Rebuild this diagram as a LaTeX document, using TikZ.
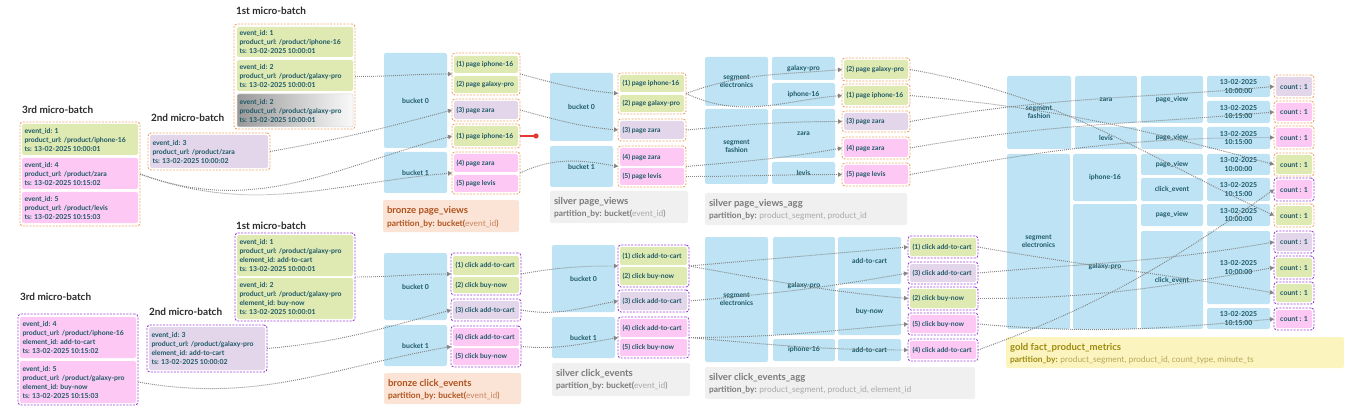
\documentclass[tikz,border=0pt]{standalone}
\usepackage{fontspec}
\setmainfont{Lato}
\usetikzlibrary{arrows.meta}
\definecolor{bblue}{HTML}{BDE3F4}
\definecolor{egreen}{HTML}{DFE9B2}
\definecolor{epink}{HTML}{FDC9F4}
\definecolor{elav}{HTML}{E3D6EB}
\definecolor{obord}{HTML}{F0A46A}
\definecolor{pbord}{HTML}{9B42D6}
\definecolor{tteal}{HTML}{1C5866}
\definecolor{conn}{HTML}{858585}
\definecolor{bzfill}{HTML}{FBE4D6}
\definecolor{bztext}{HTML}{B0521C}
\definecolor{bzlight}{HTML}{C9855E}
\definecolor{svfill}{HTML}{F0F0F0}
\definecolor{svtext}{HTML}{7A7A7A}
\definecolor{svlight}{HTML}{A8A8A8}
\definecolor{gdfill}{HTML}{FCF4BE}
\definecolor{gdtext}{HTML}{9C8A10}
\definecolor{gdlight}{HTML}{B5A75A}
\definecolor{ttlc}{HTML}{2A2A2A}
\definecolor{redc}{HTML}{E53935}
\newcommand\rb[7]{\node[#6, anchor=north west, minimum width={#4-#2}, minimum height={#5-#3}] (#1) at (#2,#3) {#7};}
\newcommand\tr[8]{\node[#6, anchor=north west, minimum width={#4-#2}, minimum height={#5-#3}] (#1) at (#2,#3) {};\node[#7, anchor=west] (#1t) at ([xshift=2.5pt]#1.west) {#8};}
\tikzset{
 every node/.style={inner sep=0pt, outer sep=0pt},
 bluebox/.style={fill=bblue, rounded corners=2pt, text=tteal, font=\fontsize{6.9}{8.2}\selectfont\bfseries, align=center},
 ogrp/.style={draw=obord, line width=0.9pt, dash pattern=on 2pt off 1.3pt, rounded corners=3pt},
 pgrp/.style={draw=pbord, line width=0.9pt, dash pattern=on 2pt off 1.3pt, rounded corners=3pt},
 fgreen/.style={fill=egreen, rounded corners=2pt},
 fpink/.style={fill=epink, rounded corners=2pt},
 flav/.style={fill=elav, rounded corners=2pt},
 fgrey/.style={left color=gray!80, right color=gray!4, rounded corners=2pt, draw=gray!30, line width=0.5pt},
 evt/.style={font=\fontsize{6.9}{9}\selectfont\bfseries, text=tteal, align=left},
 rtx/.style={font=\fontsize{6.8}{7.5}\selectfont\bfseries, text=tteal},
 ctx/.style={font=\fontsize{7}{8}\selectfont\bfseries, text=tteal},
 ttl/.style={font=\fontsize{10}{11}\selectfont\bfseries, text=ttlc, anchor=west},
 labbz/.style={fill=bzfill, rounded corners=2pt},
 labsv/.style={fill=svfill, rounded corners=2pt},
 labgd/.style={fill=gdfill, rounded corners=2pt},
 lh/.style={anchor=west, font=\fontsize{9.6}{10}\selectfont\bfseries},
 lp/.style={anchor=west, font=\fontsize{8.4}{9}\selectfont},
 conn/.style={draw=conn, line width=0.95pt, dash pattern=on 0.95pt off 1.05pt, -{Triangle[width=4.5pt,length=4pt]}},
}
\begin{document}
\begin{tikzpicture}[x=1pt,y=-1pt]
\useasboundingbox (0,0) rectangle (1358,409);
% ---------- titles
\node[ttl] (t1) at (236,11) {1st micro-batch};
\node[ttl] (t2) at (151,118) {2nd micro-batch};
\node[ttl] (t3) at (22,110) {3rd micro-batch};
\node[ttl] (t4) at (236,226) {1st micro-batch};
\node[ttl] (t5) at (149,312) {2nd micro-batch};
\node[ttl] (t6) at (20,297) {3rd micro-batch};
% ---------- page batches
\rb{pb1}{234}{24}{355}{129}{ogrp}{}
\tr{pb1a}{237}{27}{353}{57}{fgreen}{evt}{event\_id: 1\\product\_url: /product/iphone-16\\ts: 13-02-2025 10:00:01}
\tr{pb1b}{237}{60}{353}{91}{fgreen}{evt}{event\_id: 2\\product\_url: /product/galaxy-pro\\ts: 13-02-2025 10:00:01}
\tr{pb1c}{237}{94}{353}{127}{fgrey}{evt}{event\_id: 2\\product\_url: /product/galaxy-pro\\ts: 13-02-2025 10:00:01}
\rb{pb2}{148}{133}{270}{170}{ogrp}{}
\tr{pb2a}{150}{135}{268}{168}{flav}{evt}{event\_id: 3\\product\_url: /product/zara\\ts: 13-02-2025 10:00:02}
\rb{pb3}{20}{122}{140}{226}{ogrp}{}
\tr{pb3a}{22}{124}{138}{155}{fgreen}{evt}{event\_id: 1\\product\_url: /product/iphone-16\\ts: 13-02-2025 10:00:01}
\tr{pb3b}{22}{158}{138}{189}{fpink}{evt}{event\_id: 4\\product\_url: /product/zara\\ts: 13-02-2025 10:15:02}
\tr{pb3c}{22}{192}{138}{223}{fpink}{evt}{event\_id: 5\\product\_url: /product/levis\\ts: 13-02-2025 10:15:03}
% ---------- click batches
\rb{cb1}{235}{233}{355}{321}{pgrp}{}
\tr{cb1a}{237}{235}{353}{276}{fgreen}{evt}{event\_id: 1\\product\_url: /product/galaxy-pro\\element\_id: add-to-cart\\ts: 13-02-2025 10:00:01}
\tr{cb1b}{237}{278}{353}{319}{fgreen}{evt}{event\_id: 2\\product\_url: /product/galaxy-pro\\element\_id: buy-now\\ts: 13-02-2025 10:00:01}
\rb{cb2}{147}{325}{267}{372}{pgrp}{}
\tr{cb2a}{149}{327}{265}{370}{flav}{evt}{event\_id: 3\\product\_url: /product/galaxy-pro\\element\_id: add-to-cart\\ts: 13-02-2025 10:00:02}
\rb{cb3}{18}{314}{138}{405}{pgrp}{}
\tr{cb3a}{20}{317}{136}{358}{fpink}{evt}{event\_id: 4\\product\_url: /product/iphone-16\\element\_id: add-to-cart\\ts: 13-02-2025 10:15:02}
\tr{cb3b}{20}{361}{136}{403}{fpink}{evt}{event\_id: 5\\product\_url: /product/galaxy-pro\\element\_id: buy-now\\ts: 13-02-2025 10:15:03}
% ---------- bronze page_views
\rb{bzb0}{384}{53}{447}{148}{bluebox}{bucket 0}
\rb{bzb1}{384}{152}{447}{193}{bluebox}{bucket 1}
\rb{bzg1}{452}{53}{520}{95}{ogrp}{}
\tr{bzg1a}{454}{56}{518}{73}{fgreen}{rtx}{(1) page iphone-16}
\tr{bzg1b}{454}{76}{518}{93}{fgreen}{rtx}{(2) page galaxy-pro}
\rb{bzg3}{452}{99}{520}{121}{ogrp}{}
\tr{bzg3a}{454}{101}{518}{119}{flav}{rtx}{(3) page zara}
\rb{bzgd}{452}{124}{520}{148}{ogrp}{}
\tr{bzgda}{454}{126}{518}{146}{fgreen}{rtx}{(1) page iphone-16}
\rb{bzgb}{452}{152}{520}{194}{ogrp}{}
\tr{bzgba}{454}{154}{518}{172}{fpink}{rtx}{(4) page zara}
\tr{bzgbb}{454}{175}{518}{192}{fpink}{rtx}{(5) page levis}
\rb{bzl}{383}{200}{519}{232}{labbz}{}
\node[lh, text=bztext] (bzl1) at (387,211) {bronze page\_views};
\node[lp, text=bztext] (bzl2) at (387,223.5) {\bfseries partition\_by: bucket(\mdseries\color{bzlight}event\_id\color{bztext})};
\coordinate (rdot) at (536,136);
\draw[redc, line width=1.1pt] (bzgd.east) -- (rdot);
\fill[redc] (rdot) circle (2.6);
% ---------- bronze click_events
\rb{bcb0}{384}{253}{447}{320}{bluebox}{bucket 0}
\rb{bcb1}{384}{325}{447}{366}{bluebox}{bucket 1}
\rb{bcg1}{451}{253}{521}{295}{pgrp}{}
\tr{bcg1a}{453}{256}{519}{275}{fgreen}{rtx}{(1) click add-to-cart}
\tr{bcg1b}{453}{277}{519}{293}{fgreen}{rtx}{(2) click buy-now}
\rb{bcg3}{451}{299}{521}{321}{pgrp}{}
\tr{bcg3a}{453}{301}{519}{319}{flav}{rtx}{(3) click add-to-cart}
\rb{bcgb}{451}{326}{521}{367}{pgrp}{}
\tr{bcgba}{453}{328}{519}{346}{fpink}{rtx}{(4) click add-to-cart}
\tr{bcgbb}{453}{348}{519}{365}{fpink}{rtx}{(5) click buy-now}
\rb{bcl}{384}{373}{521}{404}{labbz}{}
\node[lh, text=bztext] (bcl1) at (388,384) {bronze click\_events};
\node[lp, text=bztext] (bcl2) at (388,396) {\bfseries partition\_by: bucket(\mdseries\color{bzlight}event\_id\color{bztext})};
% ---------- silver page_views
\rb{svb0}{550}{73}{613}{141}{bluebox}{bucket 0}
\rb{svb1}{550}{146}{613}{187}{bluebox}{bucket 1}
\rb{svg1}{618}{73}{686}{114}{ogrp}{}
\tr{svg1a}{620}{75}{684}{92}{fgreen}{rtx}{(1) page iphone-16}
\tr{svg1b}{620}{95}{684}{112}{fgreen}{rtx}{(2) page galaxy-pro}
\rb{svg3}{618}{119}{686}{141}{ogrp}{}
\tr{svg3a}{620}{121}{684}{139}{flav}{rtx}{(3) page zara}
\rb{svgb}{618}{146}{686}{187}{ogrp}{}
\tr{svgba}{620}{148}{684}{166}{fpink}{rtx}{(4) page zara}
\tr{svgbb}{620}{168}{684}{185}{fpink}{rtx}{(5) page levis}
\rb{svl}{550}{191}{688}{223}{labsv}{}
\node[lh, text=svtext] (svl1) at (554,202) {silver page\_views};
\node[lp, text=svtext] (svl2) at (554,214) {\bfseries partition\_by: bucket(\mdseries\color{svlight}event\_id\color{svtext})};
% ---------- silver click_events
\rb{scb0}{552}{245}{615}{312}{bluebox}{bucket 0}
\rb{scb1}{552}{317}{615}{358}{bluebox}{bucket 1}
\rb{scg1}{618}{245}{689}{287}{pgrp}{}
\tr{scg1a}{620}{247}{687}{265}{fgreen}{rtx}{(1) click add-to-cart}
\tr{scg1b}{620}{267}{687}{285}{fgreen}{rtx}{(2) click buy-now}
\rb{scg3}{618}{290}{689}{312}{pgrp}{}
\tr{scg3a}{620}{292}{687}{310}{flav}{rtx}{(3) click add-to-cart}
\rb{scgb}{618}{317}{689}{358}{pgrp}{}
\tr{scgba}{620}{319}{687}{337}{fpink}{rtx}{(4) click add-to-cart}
\tr{scgbb}{620}{339}{687}{356}{fpink}{rtx}{(5) click buy-now}
\rb{scl}{552}{363}{690}{396}{labsv}{}
\node[lh, text=svtext] (scl1) at (556,374) {silver click\_events};
\node[lp, text=svtext] (scl2) at (556,386) {\bfseries partition\_by: bucket(\mdseries\color{svlight}event\_id\color{svtext})};
% ---------- silver page_views_agg
\rb{pae}{705}{57}{768}{106}{bluebox}{segment\\electronics}
\rb{paf}{705}{109}{768}{184}{bluebox}{segment\\fashion}
\rb{pagp}{772}{57}{835}{80}{bluebox}{galaxy-pro}
\rb{paip}{772}{83}{835}{106}{bluebox}{iphone-16}
\rb{paz}{772}{109}{835}{158}{bluebox}{zara}
\rb{pal}{772}{162}{835}{184}{bluebox}{levis}
\rb{ag2}{842}{58}{910}{81}{ogrp}{}
\tr{ag2a}{844}{60}{908}{79}{fgreen}{rtx}{(2) page galaxy-pro}
\rb{ag1}{842}{84}{910}{107}{ogrp}{}
\tr{ag1a}{844}{86}{908}{105}{fgreen}{rtx}{(1) page iphone-16}
\rb{ag3}{842}{111}{910}{132}{ogrp}{}
\tr{ag3a}{844}{113}{908}{130}{flav}{rtx}{(3) page zara}
\rb{ag4}{842}{137}{910}{159}{ogrp}{}
\tr{ag4a}{844}{139}{908}{157}{fpink}{rtx}{(4) page zara}
\rb{ag5}{842}{163}{910}{186}{ogrp}{}
\tr{ag5a}{844}{165}{908}{184}{fpink}{rtx}{(5) page levis}
\rb{pal0}{705}{193}{907}{225}{labsv}{}
\node[lh, text=svtext] (pal1) at (709,204) {silver page\_views\_agg};
\node[lp, text=svtext] (pal2) at (709,216) {\bfseries partition\_by: \mdseries\color{svlight}product\_segment, product\_id};
% ---------- silver click_events_agg
\rb{cae}{705}{237}{768}{362}{bluebox}{segment\\electronics}
\rb{cagp}{773}{237}{835}{335}{bluebox}{galaxy-pro}
\rb{caip}{773}{339}{835}{361}{bluebox}{iphone-16}
\rb{caac}{838}{237}{901}{284}{bluebox}{add-to-cart}
\rb{cabn}{838}{288}{901}{335}{bluebox}{buy-now}
\rb{caac2}{838}{339}{901}{361}{bluebox}{add-to-cart}
\rb{cag1}{908}{236}{978}{258}{pgrp}{}
\tr{cag1a}{910}{238}{976}{256}{fgreen}{rtx}{(1) click add-to-cart}
\rb{cag3}{908}{262}{978}{284}{pgrp}{}
\tr{cag3a}{910}{264}{976}{282}{flav}{rtx}{(3) click add-to-cart}
\rb{cag2}{908}{287}{978}{310}{pgrp}{}
\tr{cag2a}{910}{289}{976}{308}{fgreen}{rtx}{(2) click buy-now}
\rb{cag5}{908}{313}{978}{335}{pgrp}{}
\tr{cag5a}{910}{315}{976}{333}{fpink}{rtx}{(5) click buy-now}
\rb{cag4}{908}{339}{978}{361}{pgrp}{}
\tr{cag4a}{910}{341}{976}{359}{fpink}{rtx}{(4) click add-to-cart}
\rb{cal0}{705}{367}{975}{399}{labsv}{}
\node[lh, text=svtext] (cal1) at (709,378) {silver click\_events\_agg};
\node[lp, text=svtext] (cal2) at (709,390) {\bfseries partition\_by: \mdseries\color{svlight}product\_segment, product\_id, element\_id};
% ---------- gold
\rb{gf}{1007}{76}{1071}{149}{bluebox}{segment\\fashion}
\rb{ge}{1007}{154}{1070}{329}{bluebox}{segment\\electronics}
\rb{gz}{1075}{76}{1137}{123}{bluebox}{zara}
\rb{gl}{1075}{127}{1137}{149}{bluebox}{levis}
\rb{gi}{1073}{154}{1137}{201}{bluebox}{iphone-16}
\rb{gg}{1073}{204}{1137}{329}{bluebox}{galaxy-pro}
\rb{gzp}{1141}{76}{1203}{123}{bluebox}{page\_view}
\rb{glp}{1141}{127}{1203}{149}{bluebox}{page\_view}
\rb{gip}{1141}{154}{1203}{175}{bluebox}{page\_view}
\rb{gic}{1141}{178}{1203}{201}{bluebox}{click\_event}
\rb{ggp}{1141}{204}{1203}{226}{bluebox}{page\_view}
\rb{ggc}{1141}{231}{1203}{329}{bluebox}{click\_event}
\rb{gt1}{1207}{76}{1270}{97}{bluebox}{13-02-2025\\10:00:00}
\rb{gt2}{1207}{101}{1270}{123}{bluebox}{13-02-2025\\10:15:00}
\rb{gt3}{1207}{127}{1270}{149}{bluebox}{13-02-2025\\10:15:00}
\rb{gt4}{1207}{154}{1270}{175}{bluebox}{13-02-2025\\10:00:00}
\rb{gt5}{1207}{178}{1270}{201}{bluebox}{13-02-2025\\10:15:00}
\rb{gt6}{1207}{204}{1270}{226}{bluebox}{13-02-2025\\10:00:00}
\rb{gt7}{1207}{231}{1270}{304}{bluebox}{13-02-2025\\10:00:00}
\rb{gt8}{1207}{308}{1270}{329}{bluebox}{13-02-2025\\10:15:00}
\rb{c1}{1274}{75}{1314}{98}{ogrp}{}
\rb{c1a}{1276}{77}{1312}{96}{flav,ctx}{count : 1}
\rb{c2}{1274}{101}{1314}{123}{ogrp}{}
\rb{c2a}{1276}{103}{1312}{121}{fpink,ctx}{count : 1}
\rb{c3}{1274}{126}{1314}{149}{ogrp}{}
\rb{c3a}{1276}{128}{1312}{147}{fpink,ctx}{count : 1}
\rb{c4}{1274}{153}{1314}{176}{ogrp}{}
\rb{c4a}{1276}{155}{1312}{174}{fgreen,ctx}{count : 1}
\rb{c5}{1274}{178}{1314}{201}{pgrp}{}
\rb{c5a}{1276}{180}{1312}{199}{fpink,ctx}{count : 1}
\rb{c6}{1274}{204}{1314}{227}{ogrp}{}
\rb{c6a}{1276}{206}{1312}{225}{fgreen,ctx}{count : 1}
\rb{c7}{1274}{231}{1314}{253}{pgrp}{}
\rb{c7a}{1276}{233}{1312}{251}{flav,ctx}{count : 1}
\rb{c8}{1274}{256}{1314}{279}{pgrp}{}
\rb{c8a}{1276}{258}{1312}{277}{fgreen,ctx}{count : 1}
\rb{c9}{1274}{282}{1314}{304}{pgrp}{}
\rb{c9a}{1276}{284}{1312}{302}{fgreen,ctx}{count : 1}
\rb{c10}{1274}{308}{1314}{330}{pgrp}{}
\rb{c10a}{1276}{310}{1312}{328}{fpink,ctx}{count : 1}
\rb{gdl}{1006}{337}{1344}{368}{labgd}{}
\node[lh, text=gdtext] (gdl1) at (1010,348) {gold fact\_product\_metrics};
\node[lp, text=gdtext] (gdl2) at (1010,360) {\bfseries partition\_by: \mdseries\color{gdlight}product\_segment, product\_id, count\_type, minute\_ts};
% ---------- connectors: page views
\draw[conn] (pb1.east) to[out=0,in=180] (bzg1.west);
\draw[conn] (pb2.east) to[out=10,in=195] (bzg3.west);
\draw[conn] (pb3.east) to[out=-20,in=195] (bzgd.west);
\draw[conn] (pb3.east) to[out=-20,in=185] (bzgb.west);
\draw[conn] (bzg1.east) to[out=-15,in=175] (svg1.west);
\draw[conn] (bzg3.east) to[out=-15,in=175] (svg3.west);
\draw[conn] (bzgb.east) to[out=25,in=170] (svgb.west);
\draw[conn] (svg1.east) to[out=20,in=185] (ag2.west);
\draw[conn] (svg1.east) to[out=-25,in=185] (ag1.west);
\draw[conn] (svg3.east) to[out=5,in=180] (ag3.west);
\draw[conn] (svgb.east) to[out=5,in=190] (ag4.west);
\draw[conn] (svgb.east |- svgbb) to[out=0,in=180] (ag5.west);
\draw[conn] (ag2.east) to[out=-10,in=155] (c6.west);
\draw[conn] (ag1.east) to[out=-5,in=165] (c4.west);
\draw[conn] (ag3.east) to[out=10,in=185] (c1.west);
\draw[conn] (ag4.east) to[out=10,in=185] (c2.west);
\draw[conn] (ag5.east) to[out=10,in=180] (c3.west);
% ---------- connectors: click events
\draw[conn] (cb1.east) to[out=0,in=180] (bcg1.west);
\draw[conn] (cb2.east) to[out=5,in=195] (bcg3.west);
\draw[conn] (cb3.east |- cb3b) to[out=-10,in=190] (bcgb.west);
\draw[conn] (bcg1.east) to[out=10,in=180] (scg1.west);
\draw[conn] (bcg3.east) to[out=-10,in=190] (scg3.west);
\draw[conn] (bcgb.east) to[out=-5,in=190] (scgb.west);
\draw[conn] (scg1.east) to[out=5,in=185] (cag1.west);
\draw[conn] (scg1.east) to[out=-10,in=175] (cag2.west);
\draw[conn] (scg3.east) to[out=5,in=190] (cag3.west);
\draw[conn] (scgb.east) to[out=0,in=185] (cag5.west);
\draw[conn] (scgb.east) to[out=-5,in=180] (cag4.west);
\draw[conn] (cag1.east) to[out=-10,in=170] (c9.west);
\draw[conn] (cag3.east) to[out=5,in=190] (c7.west);
\draw[conn] (cag2.east) to[out=0,in=190] (c8.west);
\draw[conn] (cag5.east) to[out=-5,in=185] (c10.west);
\draw[conn] (cag4.east) to[out=20,in=215] (c5.west);
\end{tikzpicture}
\end{document}
